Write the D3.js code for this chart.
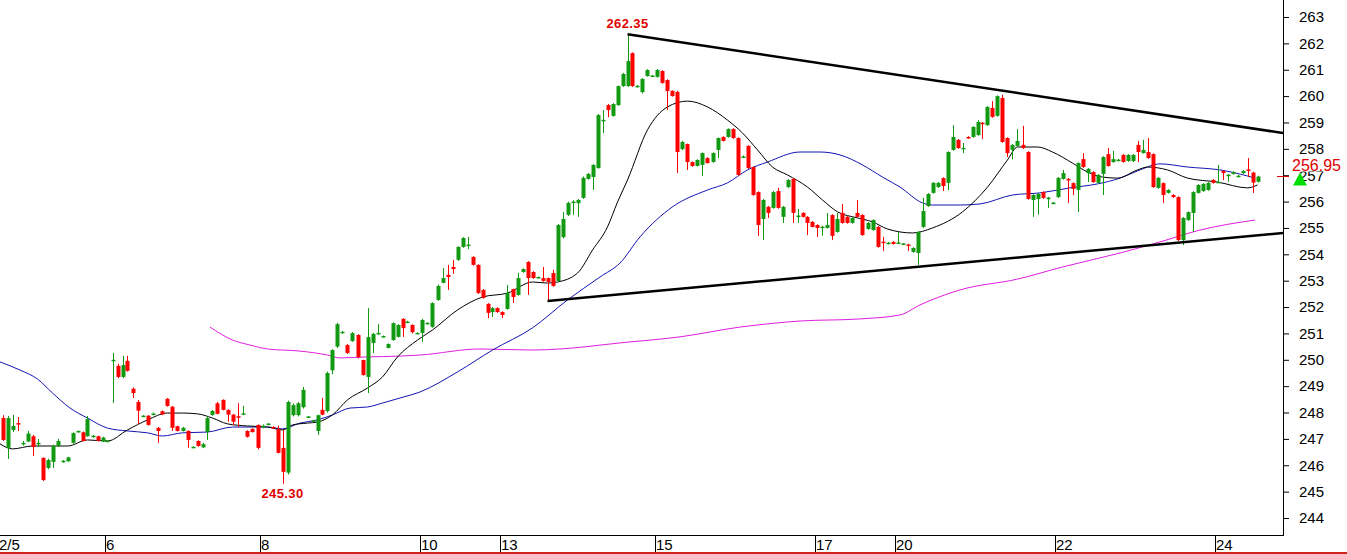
<!DOCTYPE html>
<html>
<head>
<meta charset="utf-8">
<script src="https://cdn.jsdelivr.net/npm/d3@7"></script>
<style>
  body { margin: 0; background: #fff; }
  svg { display: block; font-family: "Liberation Sans", Arial, sans-serif; }
</style>
</head>
<body>
<div id="chart"></div>
<script>
// Candles, one per bar: [open, high, low, close]
const candles = [
  [247.79,247.90,246.92,246.96],[246.66,247.87,246.24,247.79],[247.34,247.91,247.26,247.49],[247.60,247.83,247.30,247.55],
  [246.82,246.92,246.75,246.85],[246.90,247.30,246.88,247.20],[247.10,247.15,246.35,246.70],[246.80,247.00,246.70,246.85],
  [246.28,246.30,245.40,245.44],[245.90,246.25,245.85,246.20],[246.13,246.78,245.90,246.73],[246.73,247.00,246.70,246.92],
  [246.13,246.20,246.10,246.17],[246.15,246.32,246.13,246.30],[246.85,247.25,246.82,247.22],[247.28,247.32,247.25,247.30],
  [247.25,247.28,246.90,246.92],[247.10,247.87,247.08,247.75],[247.10,247.15,247.05,247.12],[247.10,247.12,246.90,246.93],
  [246.90,247.08,246.88,247.05],[246.90,246.95,246.88,246.93],[249.95,250.26,248.36,250.00],[249.77,249.85,249.30,249.35],
  [249.35,250.15,249.30,249.80],[249.96,250.15,249.55,249.58],[248.90,248.95,248.55,248.74],[248.40,248.48,247.56,248.07],
  [247.85,247.90,247.83,247.88],[247.88,247.90,247.50,247.53],[247.93,248.00,247.90,247.96],[247.42,247.45,246.85,247.30],
  [248.05,248.08,247.90,247.93],[248.52,248.55,248.22,248.25],[248.22,248.25,247.30,247.42],[247.48,247.50,247.28,247.30],
  [247.30,247.45,247.28,247.42],[247.30,247.33,246.66,246.96],[246.68,246.72,246.65,246.70],[246.92,246.95,246.70,246.73],
  [246.68,246.85,246.65,246.80],[247.26,247.85,246.96,247.79],[247.91,248.10,247.88,248.06],[248.35,248.40,247.93,247.95],
  [248.48,248.50,248.08,248.10],[248.10,248.12,247.65,247.92],[247.92,247.95,247.53,247.65],[247.86,248.35,247.45,247.80],
  [247.94,248.25,247.92,247.97],[247.30,247.33,247.05,247.08],[247.38,247.40,247.24,247.26],[247.53,247.55,246.60,246.66],
  [247.45,247.55,247.40,247.50],[247.55,247.60,247.52,247.58],[247.45,247.48,247.40,247.42],[247.38,247.50,246.45,246.47],
  [246.66,247.34,245.30,245.75],[245.72,248.45,245.65,248.40],[247.90,248.35,247.85,248.28],[247.90,248.40,247.85,248.35],
  [248.20,248.97,248.15,248.86],[247.82,247.87,247.80,247.85],[247.68,247.72,247.66,247.70],[247.30,247.92,247.15,247.90],
  [248.10,248.55,247.90,247.92],[248.05,249.55,248.00,249.50],[249.60,250.40,249.45,250.37],[250.50,251.40,250.45,251.35],
  [251.03,251.10,251.00,251.06],[250.56,250.60,250.22,250.26],[250.71,251.05,250.68,251.01],[250.94,250.97,250.05,250.10],
  [249.99,250.00,249.40,249.42],[249.35,251.96,248.74,250.86],[250.64,251.02,250.26,250.98],[250.98,251.35,250.95,251.02],
  [250.88,250.92,250.85,250.90],[250.45,250.62,250.43,250.60],[250.75,251.42,250.72,251.39],[250.87,251.35,250.85,251.32],
  [251.55,251.58,250.87,251.20],[251.42,251.48,251.40,251.45],[251.32,251.35,251.00,251.05],[251.00,251.04,250.98,251.02],
  [251.02,251.55,250.68,251.51],[251.38,251.42,251.36,251.40],[251.25,252.18,251.22,252.15],[252.27,252.85,252.24,252.80],
  [252.92,253.48,252.90,253.10],[253.22,253.60,252.65,253.14],[253.52,253.79,253.26,253.44],[253.79,254.30,253.75,254.28],
  [254.28,254.65,254.25,254.62],[254.34,254.66,254.20,254.37],[253.90,253.93,253.57,253.60],[253.60,253.62,252.50,252.53],
  [252.65,252.68,252.32,252.35],[252.12,252.15,251.58,251.78],[251.81,252.00,251.62,251.96],[251.96,251.99,251.78,251.81],
  [251.81,251.84,251.58,251.70],[251.93,252.84,251.90,252.53],[252.68,252.70,252.15,252.38],[252.46,253.30,252.43,253.10],
  [253.33,253.47,253.30,253.44],[253.71,253.74,252.46,253.10],[253.33,253.36,253.07,253.10],[253.12,253.16,253.10,253.14],
  [253.10,253.52,252.96,252.99],[253.10,253.12,252.23,252.95],[253.29,253.41,252.77,252.80],[252.99,255.15,252.95,255.11],
  [254.65,255.60,254.60,255.34],[255.50,256.00,255.45,255.95],[255.96,256.05,255.50,256.00],[255.94,256.10,255.42,256.06],
  [256.14,256.95,256.10,256.90],[256.86,257.08,256.83,257.05],[256.93,257.42,256.44,257.39],[257.27,259.32,257.25,259.28],
  [259.07,259.47,258.60,259.10],[259.66,259.70,259.20,259.47],[259.25,259.73,259.22,259.70],[259.66,260.40,259.63,260.38],
  [260.38,260.88,260.35,260.84],[260.38,262.35,260.35,261.33],[261.63,261.66,260.35,260.38],[260.36,260.42,260.33,260.39],
  [260.15,260.68,260.10,260.65],[260.76,261.02,260.74,260.99],[260.75,260.80,260.72,260.78],[260.73,261.02,260.70,260.99],
  [260.95,260.98,260.47,260.50],[260.61,260.64,259.47,260.19],[260.20,260.22,259.98,260.00],[260.16,260.20,257.08,257.88],
  [257.99,258.30,257.95,258.26],[258.18,258.20,257.20,257.50],[257.50,257.52,257.32,257.35],[257.35,257.60,257.33,257.58],
  [257.39,257.86,256.97,257.84],[257.65,257.68,257.44,257.46],[257.50,257.87,257.47,257.84],[257.96,258.43,257.65,258.41],
  [258.45,258.48,258.28,258.30],[258.45,258.78,258.42,258.75],[258.75,258.78,258.38,258.41],[258.41,258.44,256.98,257.01],
  [257.68,257.75,257.65,257.71],[258.11,258.14,257.24,257.27],[257.31,257.34,256.22,256.25],[256.36,256.39,254.70,255.11],
  [255.34,256.10,254.54,256.06],[255.80,255.83,255.38,255.57],[255.76,256.40,255.73,256.36],[256.40,256.52,255.73,255.76],
  [255.42,255.83,255.19,255.80],[256.55,256.85,256.52,256.82],[256.86,256.89,255.19,255.57],[255.45,255.72,255.19,255.47],
  [255.57,255.60,255.40,255.42],[255.42,255.45,254.73,255.19],[255.23,255.26,255.02,255.04],[255.11,255.14,254.66,255.00],
  [255.02,255.08,254.70,255.05],[255.00,255.57,254.98,255.11],[255.49,255.52,254.54,254.70],[254.85,255.57,254.82,255.34],
  [255.57,255.91,255.16,255.19],[255.42,255.45,255.16,255.19],[255.19,255.40,255.16,255.38],[255.57,256.06,255.40,255.42],
  [255.49,255.52,254.70,254.73],[254.96,255.22,254.93,255.19],[254.92,255.33,254.90,255.30],[255.04,255.07,254.25,254.28],
  [254.48,254.66,254.13,254.45],[254.41,254.47,254.38,254.44],[254.47,254.50,254.37,254.39],[254.42,254.85,254.40,254.45],
  [254.38,254.43,254.36,254.41],[254.37,254.40,254.13,254.33],[254.09,254.27,254.06,254.24],[254.05,254.88,253.60,254.85],
  [255.04,256.14,255.00,255.64],[255.83,256.32,255.80,256.29],[256.33,256.74,256.30,256.71],[256.55,256.74,256.52,256.71],
  [256.89,256.92,256.40,256.59],[256.71,257.91,256.44,257.88],[257.96,258.90,257.93,258.45],[258.34,258.37,258.00,258.03],
  [258.01,258.22,257.84,258.04],[258.45,258.48,258.38,258.41],[258.45,258.86,258.42,258.83],[258.52,259.09,258.50,259.02],
  [258.99,259.02,258.37,258.96],[258.90,259.62,258.87,259.59],[259.55,259.81,259.18,259.21],[259.25,260.03,259.22,260.00],
  [259.93,260.05,258.23,258.26],[258.41,258.44,257.69,257.84],[257.96,258.18,257.60,258.15],[258.11,258.75,258.08,258.30],
  [258.15,258.87,258.00,258.03],[257.88,257.91,256.07,256.10],[256.06,256.28,255.42,256.25],[256.10,256.32,255.50,256.29],
  [256.36,256.39,256.10,256.14],[256.12,256.18,255.76,256.15],[255.93,255.99,255.90,255.96],[256.17,256.93,256.14,256.90],
  [256.86,257.20,256.83,257.08],[256.86,256.89,255.95,256.82],[256.70,256.73,256.25,256.48],[256.44,257.49,255.60,257.46],
  [257.61,257.84,257.28,257.31],[257.08,257.27,256.74,257.24],[257.12,257.15,256.71,256.74],[256.71,257.04,256.68,257.01],
  [257.05,257.72,256.25,257.69],[257.80,258.03,257.32,257.35],[257.50,257.92,257.47,257.61],[257.56,257.62,257.53,257.59],
  [257.77,257.80,257.47,257.50],[257.54,257.80,257.51,257.77],[257.54,257.80,257.50,257.77],[258.15,258.30,257.50,257.88],
  [257.84,258.34,257.82,257.96],[257.88,258.41,257.62,257.65],[257.80,257.83,256.52,256.55],[256.52,256.93,256.49,256.90],
  [256.70,256.73,255.95,256.25],[256.33,256.47,256.30,256.44],[256.25,256.28,256.14,256.17],[256.17,256.20,254.50,254.54],
  [254.54,255.41,254.35,255.38],[255.30,255.63,255.27,255.60],[255.57,256.39,254.85,256.36],[256.33,256.66,256.30,256.63],
  [256.40,256.70,256.37,256.67],[256.44,256.74,256.41,256.71],[256.82,256.85,256.68,256.71],[256.72,257.39,256.70,256.75],
  [257.16,257.19,256.82,257.08],[256.99,257.05,256.75,257.02],[257.05,257.15,257.02,257.12],[256.95,257.01,256.92,256.98],
  [257.08,257.19,257.05,257.16],[257.22,257.65,256.93,257.18],[257.10,257.13,256.33,256.72],[256.75,256.98,256.72,256.95]
];

// Moving averages: [bar index, price]
const maShort = [[-0.5,246.81],[2,246.62],[6,246.73],[13,246.73],[17,246.96],[21,246.92],[25,247.34],[29,247.72],
  [33,247.98],[36,247.98],[39,247.95],[42,247.79],[45,247.57],[49,247.49],[53,247.45],[56,247.34],[58,247.53],
  [61,247.6],[63,247.64],[66,247.91],[69,248.48],[73,248.93],[76,249.35],[79,250.11],[83,250.75],[86,251.13],
  [91,251.89],[96,252.38],[101,252.53],[106,252.95],[109,252.91],[111,252.95],[115,253.29],[118,254.16],[121,255.04],
  [123,255.98],[125,256.82],[129,258.72],[133,259.59],[137,259.81],[141,259.59],[145,259.09],[148,258.6],[151,257.96],
  [154,257.31],[157,257.01],[161,256.55],[164,256.06],[167,255.61],[171,255.38],[174,255.23],[177,254.96],[182,254.81],
  [186,255.0],[192,255.61],[197,256.55],[201,257.58],[203,258.07],[207,258.07],[210,257.88],[214,257.46],[217,257.12],
  [220,256.93],[223,256.89],[227,257.2],[229,257.31],[233,257.2],[237,256.89],[243,256.74],[249,256.52],[251,256.63]];

const maMid = [[-0.5,249.92],[3.5,249.61],[7,249.27],[10,248.74],[13.5,248.17],[17,247.79],[21,247.41],[25,247.3],
  [29,247.23],[32,247.11],[36,247.23],[41,247.26],[46,247.45],[53,247.45],[56,247.38],[59.5,247.6],[63,247.72],
  [66,247.91],[69.5,248.17],[73,248.21],[76,248.36],[79.5,248.55],[83.5,248.78],[91,249.54],[98,250.37],[106,251.21],
  [113,252.27],[119.5,253.14],[123.5,253.67],[127.5,254.66],[134,255.8],[141,256.44],[145,256.71],[149,257.2],
  [153,257.5],[159.5,257.88],[163.5,257.88],[167.5,257.77],[172,257.39],[176,256.93],[179.5,256.55],[184,255.95],
  [186,255.87],[191.5,255.87],[195.5,255.91],[202,256.25],[207.5,256.33],[213.5,256.52],[219,256.67],[223.5,256.89],
  [227.5,257.2],[231.5,257.43],[237,257.31],[243.5,257.2],[249,256.97],[250.5,256.89]];

const maLong = [[41.5,251.24],[46,250.75],[49.5,250.56],[53,250.41],[59.5,250.33],[65,250.18],[67.5,250.07],
  [73,250.11],[79.5,250.14],[83.5,250.18],[95.5,250.41],[106,250.37],[111.5,250.41],[123.5,250.64],[135.5,250.87],
  [147.5,251.24],[159.5,251.47],[171.5,251.55],[179.5,251.7],[183.5,252.08],[191.5,252.65],[203,253.06],[212,253.52],
  [223.5,254.05],[231.5,254.47],[239.5,254.92],[250.5,255.3]];

// Triangle trend lines: [bar index, price]
const upperTrend = [[125, 262.35], [256.1, 258.6]];
const lowerTrend = [[109, 252.23], [256.1, 254.81]];

// Day labels and the bar index where each day starts
const dayLabels = ["2/5", "6", "8", "10", "13", "15", "17", "20", "22", "24"];
const dayStarts = [-0.5, 21, 52, 84, 100, 131, 163, 179, 211, 243];

const priceTicks = d3.range(244, 264);
const highMark = {index: 125, price: 262.35, label: "262.35"};
const lowMark = {index: 56, price: 245.30, label: "245.30"};
const lastPrice = 256.95;

const width = 1347, height = 554;
const plotRight = 1283, plotBottom = 535;
const green = "#119a11", red = "#ff0000";

const svg = d3.select("#chart").append("svg")
    .attr("width", width)
    .attr("height", height);

const x = d3.scaleLinear().domain([0, candles.length - 1]).range([2.5, 1257.5]);
const y = d3.scaleLinear().domain([244, 263]).range([518, 17]);

svg.append("defs").append("clipPath").attr("id", "plot")
  .append("rect").attr("x", 0).attr("y", 0).attr("width", plotRight).attr("height", plotBottom);

const plot = svg.append("g").attr("clip-path", "url(#plot)");

// Moving averages
const line = d3.line().x(d => x(d[0])).y(d => y(d[1])).curve(d3.curveMonotoneX);
[[maLong, "#e01ee0"], [maMid, "#1414b4"], [maShort, "#000"]].forEach(([pts, col]) => {
  plot.append("path").datum(pts)
      .attr("fill", "none").attr("stroke", col).attr("stroke-width", 1)
      .attr("d", line);
});

// Candles
const bars = plot.append("g").selectAll("g").data(candles).join("g")
    .attr("fill", d => d[3] >= d[0] ? green : red)
    .attr("stroke", d => d[3] >= d[0] ? green : red);

bars.append("line")
    .attr("x1", (d, i) => Math.round(x(i)) + 0.5)
    .attr("x2", (d, i) => Math.round(x(i)) + 0.5)
    .attr("y1", d => y(d[1]))
    .attr("y2", d => y(d[2]))
    .attr("stroke-width", 1);

bars.append("rect")
    .attr("stroke", "none")
    .attr("x", (d, i) => Math.round(x(i)) - 1.5)
    .attr("width", 4)
    .attr("y", d => y(Math.max(d[0], d[3])))
    .attr("height", d => Math.max(1.5, Math.abs(y(d[0]) - y(d[3]))));

// Trend lines
const straight = d3.line().x(d => x(d[0])).y(d => y(d[1]));
[upperTrend, lowerTrend].forEach(pts => {
  plot.append("path").datum(pts)
      .attr("fill", "none").attr("stroke", "#000").attr("stroke-width", 2.5)
      .attr("d", straight);
});

// High / low labels
[highMark, lowMark].forEach((m, k) => {
  svg.append("text")
      .attr("x", x(m.index))
      .attr("y", k === 0 ? y(m.price) - 6 : y(m.price) + 14)
      .attr("text-anchor", "middle")
      .attr("fill", "#e00000")
      .attr("font-size", 13)
      .attr("font-weight", "bold")
      .attr("letter-spacing", 0.4)
      .text(m.label);
});

// Right price axis
const yAxis = svg.append("g")
    .attr("transform", `translate(${plotRight},0)`)
    .call(d3.axisRight(y).tickValues(priceTicks).tickSize(6).tickPadding(10).tickFormat(d3.format("d")));
yAxis.select(".domain").remove();
yAxis.selectAll("line").attr("stroke", "#000");
yAxis.selectAll("text")
    .attr("font-size", 15)
    .attr("font-family", "Liberation Sans, Arial, sans-serif")
    .attr("fill", "#000");

svg.append("line")
    .attr("x1", plotRight + 0.5).attr("x2", plotRight + 0.5)
    .attr("y1", 0).attr("y2", plotBottom)
    .attr("stroke", "#000");

// Last price marker
svg.append("rect")
    .attr("x", 1289).attr("y", y(lastPrice) - 19)
    .attr("width", 58).attr("height", 14)
    .attr("fill", "#fff");
svg.append("text")
    .attr("x", 1292).attr("y", y(lastPrice) - 6)
    .attr("fill", "#e00000")
    .attr("font-size", 16)
    .text(d3.format(".2f")(lastPrice));
svg.append("line")
    .attr("x1", plotRight - 6).attr("x2", plotRight + 6)
    .attr("y1", y(lastPrice)).attr("y2", y(lastPrice))
    .attr("stroke", "#e00000");
const ty = y(lastPrice);
svg.append("path")
    .attr("d", `M1293,${ty + 9} L1300,${ty - 4} L1307,${ty + 9} Z`)
    .attr("fill", "#00dd00");

// Bottom date axis
svg.append("line")
    .attr("x1", 0).attr("x2", plotRight + 1)
    .attr("y1", plotBottom + 0.5).attr("y2", plotBottom + 0.5)
    .attr("stroke", "#000");

const days = svg.append("g").selectAll("g").data(dayLabels).join("g")
    .attr("transform", (d, i) => `translate(${Math.round(x(dayStarts[i]) - 2.5)},0)`);
days.append("line")
    .attr("x1", 0.5).attr("x2", 0.5)
    .attr("y1", plotBottom).attr("y2", 552)
    .attr("stroke", "#000");
days.append("text")
    .attr("x", 1).attr("y", 550)
    .attr("font-size", 15)
    .attr("fill", "#000")
    .text(d => d);

svg.append("line")
    .attr("x1", 0).attr("x2", width)
    .attr("y1", 553).attr("y2", 553)
    .attr("stroke", "#d02020").attr("stroke-width", 2);
</script>
</body>
</html>
